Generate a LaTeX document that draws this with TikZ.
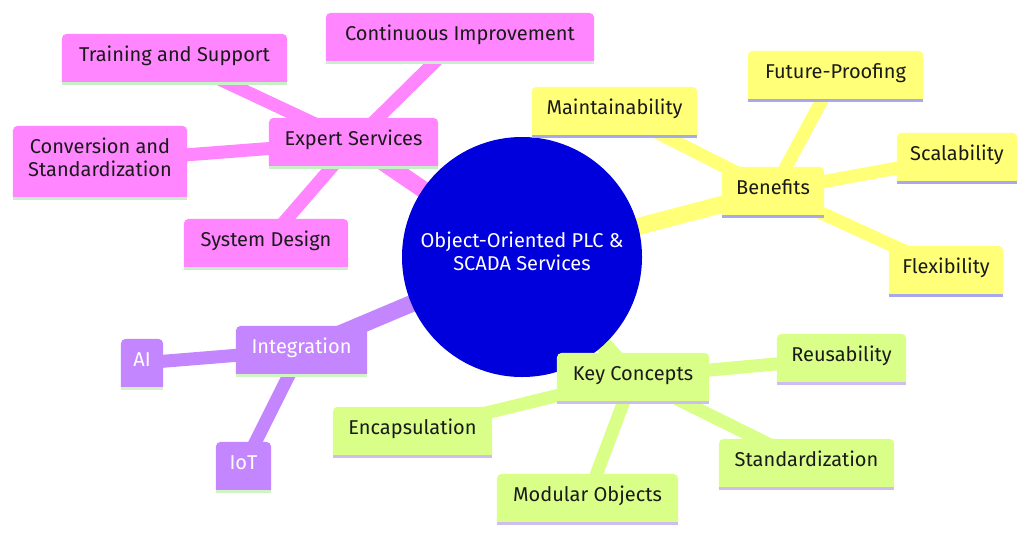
\documentclass[tikz,border=0pt]{standalone}
\usepackage{fontspec}
\setmainfont{Fira Sans}
\definecolor{rootc}{HTML}{0000DD}
\definecolor{pinkc}{HTML}{FF86FF}
\definecolor{pinkb}{HTML}{C8F0C8}
\definecolor{yelc}{HTML}{FFFF78}
\definecolor{yelb}{HTML}{A8A8EC}
\definecolor{grnc}{HTML}{D9FF88}
\definecolor{grnb}{HTML}{CDBDF0}
\definecolor{purc}{HTML}{C386FF}
\definecolor{purb}{HTML}{D2F4C4}
\definecolor{txt}{HTML}{1A1A1A}
\pgfdeclarelayer{edges}
\pgfdeclarelayer{circ}
\pgfdeclarelayer{boxes}
\pgfsetlayers{edges,circ,boxes,main}
\newcommand\mmbg[3]{%
  \begin{pgfonlayer}{boxes}
    \fill[#2] (#1.south west) [rounded corners=5pt] -- (#1.north west) -- (#1.north east) [sharp corners] -- (#1.south east) -- cycle;
    \fill[#3] (#1.south west) rectangle ([yshift=-3pt]#1.south east);
  \end{pgfonlayer}}
\begin{document}
\begin{tikzpicture}[x=1pt,y=-1pt,
  mmbase/.style={rectangle, inner sep=0pt, minimum height=48pt, text=txt,
    font=\fontsize{20}{23}\selectfont},
  mm/.style={mmbase, text height=14pt, text depth=8pt},
  lvl1/.style={line width=17pt},
  lvl2/.style={line width=13pt}]
\useasboundingbox (0,0) rectangle (1024,536);

\begin{pgfonlayer}{circ}
\node[circle, fill=rootc, minimum size=240pt, inner sep=0pt, text=white,
  font=\fontsize{20}{23}\selectfont] (root) at (522,257)
  {\raisebox{3pt}[\height][\depth]{\begin{tabular}{@{}c@{}}Object-Oriented PLC \&\\SCADA Services\end{tabular}}};
\end{pgfonlayer}

% Expert services (pink)
\node[mm, minimum width=169pt] (es) at (353.5,142) {Expert Services};
\node[mm, minimum width=268pt] (ci) at (460,37) {Continuous Improvement};
\node[mm, minimum width=225pt] (ts) at (174.5,58) {Training and Support};
\node[mmbase, minimum width=174pt, minimum height=71pt] (cs) at (100,161.5)
  {\raisebox{1.5pt}[\height][\depth]{\begin{tabular}{@{}c@{}}Conversion and\\Standardization\end{tabular}}};
\node[mm, minimum width=164pt] (sd) at (266,243) {System Design};

% Benefits (yellow)
\node[mm, minimum width=102pt] (be) at (773,191) {Benefits};
\node[mm, minimum width=165pt] (mt) at (614.5,111) {Maintainability};
\node[mm, minimum width=175pt] (fp) at (835.5,75) {Future-Proofing};
\node[mm, minimum width=120pt] (sc) at (957,157) {Scalability};
\node[mm, minimum width=114pt] (fl) at (946,270) {Flexibility};

% Key concepts (green)
\node[mm, minimum width=152pt] (kc) at (633,377) {Key Concepts};
\node[mm, minimum width=129pt] (re) at (841.5,358) {Reusability};
\node[mm, minimum width=175pt] (st) at (806.5,463) {Standardization};
\node[mm, minimum width=181pt] (mo) at (587.5,498) {Modular Objects};
\node[mm, minimum width=159pt] (en) at (412.5,431) {Encapsulation};

% Integration (purple)
\node[mm, minimum width=131pt, text=white] (in) at (301.5,350) {Integration};
\node[mm, minimum width=42pt, text=white] (ai) at (142,363) {AI};
\node[mm, minimum width=55pt, text=white] (iot) at (243.5,466) {IoT};

\foreach \n in {es,ci,ts,cs,sd} {\mmbg{\n}{pinkc}{pinkb}}
\foreach \n in {be,mt,fp,sc,fl} {\mmbg{\n}{yelc}{yelb}}
\foreach \n in {kc,re,st,mo,en} {\mmbg{\n}{grnc}{grnb}}
\foreach \n in {in,ai,iot} {\mmbg{\n}{purc}{purb}}

\begin{pgfonlayer}{edges}
\fill[white] (0,0) rectangle (1024,536);
\draw[lvl1, pinkc] (root.center) -- (es.center);
\draw[lvl1, yelc] (root.center) -- (be.center);
\draw[lvl1, grnc] (root.center) -- (kc.center);
\draw[lvl1, purc] (root.center) -- (in.center);
\foreach \n in {ci,ts,cs,sd} {\draw[lvl2, pinkc] (es.center) -- (\n.center);}
\foreach \n in {mt,fp,sc,fl} {\draw[lvl2, yelc] (be.center) -- (\n.center);}
\foreach \n in {re,st,mo,en} {\draw[lvl2, grnc] (kc.center) -- (\n.center);}
\foreach \n in {ai,iot} {\draw[lvl2, purc] (in.center) -- (\n.center);}
\end{pgfonlayer}
\end{tikzpicture}
\end{document}
